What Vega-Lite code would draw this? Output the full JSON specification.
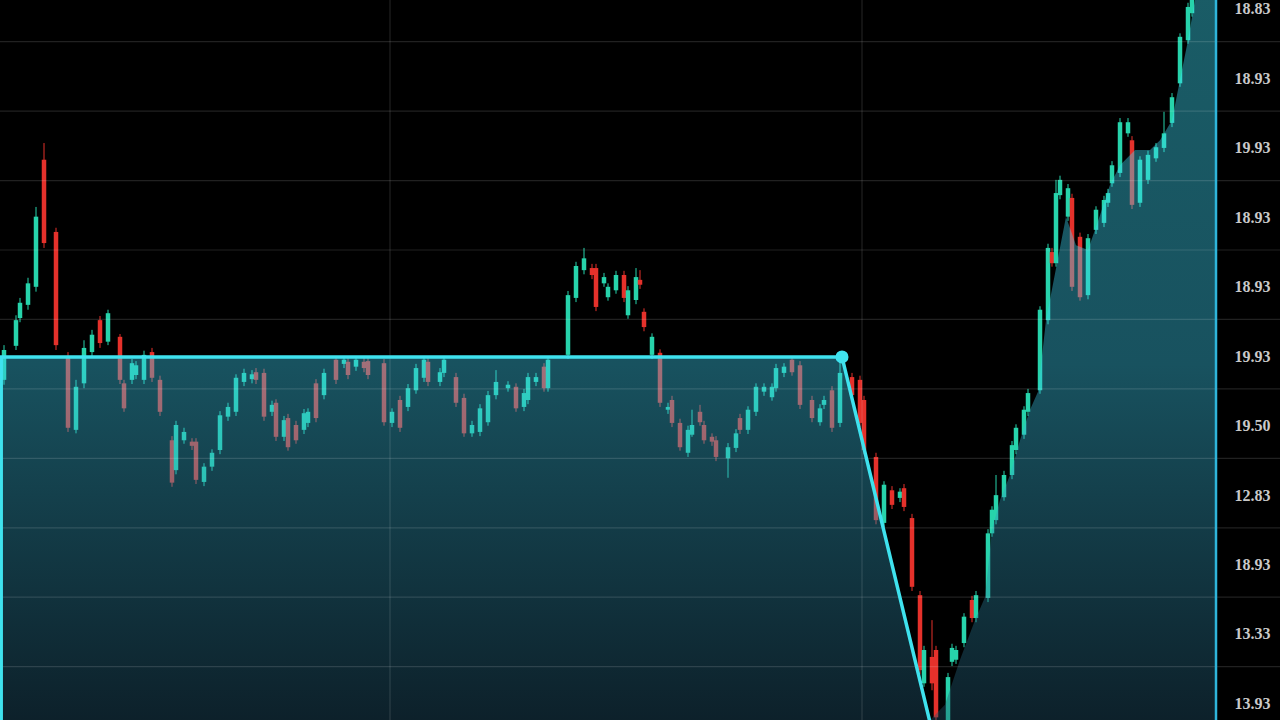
{
  "$schema": "https://vega.github.io/schema/vega-lite/v6.json",
  "width": 1280,
  "height": 720,
  "autosize": {"type": "none"},
  "padding": 0,
  "background": "#000000",
  "config": {
    "view": {"stroke": null},
    "axisX": {"disable": true},
    "axisY": {"grid": false, "domain": false, "ticks": false, "title": null}
  },
  "datasets": {
    "candles": [
      {"t":1,"o":18.513,"h":18.563,"l":18.506,"c":18.556},
      {"t":4,"o":18.562,"h":18.606,"l":18.556,"c":18.599},
      {"t":5,"o":18.602,"h":18.631,"l":18.596,"c":18.624},
      {"t":7,"o":18.621,"h":18.660,"l":18.614,"c":18.652},
      {"t":9,"o":18.647,"h":18.762,"l":18.640,"c":18.748},
      {"t":11,"o":18.830,"h":18.854,"l":18.703,"c":18.710},
      {"t":14,"o":18.726,"h":18.732,"l":18.556,"c":18.563},
      {"t":17,"o":18.545,"h":18.553,"l":18.438,"c":18.444},
      {"t":19,"o":18.441,"h":18.513,"l":18.436,"c":18.503},
      {"t":21,"o":18.508,"h":18.570,"l":18.501,"c":18.559},
      {"t":23,"o":18.553,"h":18.585,"l":18.547,"c":18.578},
      {"t":25,"o":18.599,"h":18.605,"l":18.559,"c":18.566},
      {"t":27,"o":18.568,"h":18.614,"l":18.563,"c":18.609},
      {"t":30,"o":18.575,"h":18.579,"l":18.507,"c":18.513},
      {"t":31,"o":18.508,"h":18.513,"l":18.467,"c":18.472},
      {"t":33,"o":18.513,"h":18.543,"l":18.507,"c":18.537},
      {"t":34,"o":18.520,"h":18.540,"l":18.514,"c":18.534},
      {"t":36,"o":18.513,"h":18.555,"l":18.507,"c":18.549},
      {"t":38,"o":18.553,"h":18.559,"l":18.510,"c":18.516},
      {"t":40,"o":18.513,"h":18.519,"l":18.461,"c":18.467},
      {"t":43,"o":18.426,"h":18.432,"l":18.359,"c":18.365},
      {"t":44,"o":18.383,"h":18.454,"l":18.377,"c":18.448},
      {"t":46,"o":18.426,"h":18.444,"l":18.421,"c":18.438},
      {"t":48,"o":18.424,"h":18.429,"l":18.412,"c":18.418},
      {"t":49,"o":18.424,"h":18.429,"l":18.363,"c":18.369},
      {"t":51,"o":18.366,"h":18.393,"l":18.360,"c":18.388},
      {"t":53,"o":18.388,"h":18.413,"l":18.382,"c":18.408},
      {"t":55,"o":18.412,"h":18.468,"l":18.406,"c":18.462},
      {"t":57,"o":18.460,"h":18.480,"l":18.454,"c":18.474},
      {"t":59,"o":18.467,"h":18.521,"l":18.461,"c":18.516},
      {"t":61,"o":18.510,"h":18.529,"l":18.504,"c":18.523},
      {"t":63,"o":18.514,"h":18.527,"l":18.508,"c":18.521},
      {"t":64,"o":18.524,"h":18.530,"l":18.507,"c":18.513},
      {"t":66,"o":18.523,"h":18.529,"l":18.454,"c":18.460},
      {"t":68,"o":18.467,"h":18.483,"l":18.461,"c":18.477},
      {"t":69,"o":18.480,"h":18.485,"l":18.425,"c":18.431},
      {"t":71,"o":18.431,"h":18.461,"l":18.425,"c":18.455},
      {"t":72,"o":18.458,"h":18.464,"l":18.411,"c":18.416},
      {"t":74,"o":18.448,"h":18.454,"l":18.421,"c":18.426},
      {"t":76,"o":18.441,"h":18.471,"l":18.435,"c":18.465},
      {"t":77,"o":18.451,"h":18.472,"l":18.445,"c":18.467},
      {"t":79,"o":18.508,"h":18.514,"l":18.452,"c":18.458},
      {"t":81,"o":18.491,"h":18.529,"l":18.485,"c":18.523},
      {"t":84,"o":18.542,"h":18.547,"l":18.507,"c":18.513},
      {"t":86,"o":18.536,"h":18.546,"l":18.530,"c":18.542},
      {"t":87,"o":18.539,"h":18.545,"l":18.514,"c":18.520},
      {"t":89,"o":18.532,"h":18.546,"l":18.526,"c":18.542},
      {"t":91,"o":18.539,"h":18.545,"l":18.524,"c":18.530},
      {"t":92,"o":18.540,"h":18.546,"l":18.514,"c":18.520},
      {"t":96,"o":18.537,"h":18.543,"l":18.447,"c":18.452},
      {"t":98,"o":18.451,"h":18.472,"l":18.445,"c":18.467},
      {"t":100,"o":18.484,"h":18.490,"l":18.438,"c":18.444},
      {"t":102,"o":18.474,"h":18.507,"l":18.468,"c":18.501},
      {"t":104,"o":18.498,"h":18.536,"l":18.493,"c":18.530},
      {"t":106,"o":18.516,"h":18.547,"l":18.510,"c":18.542},
      {"t":107,"o":18.539,"h":18.545,"l":18.504,"c":18.510},
      {"t":110,"o":18.510,"h":18.530,"l":18.504,"c":18.524},
      {"t":111,"o":18.523,"h":18.547,"l":18.517,"c":18.542},
      {"t":114,"o":18.517,"h":18.523,"l":18.474,"c":18.480},
      {"t":116,"o":18.487,"h":18.493,"l":18.431,"c":18.436},
      {"t":118,"o":18.436,"h":18.454,"l":18.431,"c":18.448},
      {"t":120,"o":18.438,"h":18.478,"l":18.432,"c":18.472},
      {"t":122,"o":18.452,"h":18.497,"l":18.447,"c":18.491},
      {"t":124,"o":18.491,"h":18.527,"l":18.485,"c":18.510},
      {"t":127,"o":18.501,"h":18.511,"l":18.496,"c":18.506},
      {"t":129,"o":18.503,"h":18.508,"l":18.467,"c":18.472},
      {"t":131,"o":18.474,"h":18.500,"l":18.468,"c":18.494},
      {"t":132,"o":18.484,"h":18.523,"l":18.478,"c":18.517},
      {"t":134,"o":18.510,"h":18.523,"l":18.504,"c":18.517},
      {"t":136,"o":18.532,"h":18.537,"l":18.496,"c":18.501},
      {"t":137,"o":18.501,"h":18.547,"l":18.496,"c":18.542},
      {"t":142,"o":18.549,"h":18.641,"l":18.543,"c":18.635},
      {"t":144,"o":18.631,"h":18.683,"l":18.625,"c":18.677},
      {"t":146,"o":18.671,"h":18.703,"l":18.665,"c":18.688},
      {"t":148,"o":18.674,"h":18.680,"l":18.658,"c":18.664},
      {"t":149,"o":18.674,"h":18.680,"l":18.612,"c":18.618},
      {"t":151,"o":18.652,"h":18.667,"l":18.647,"c":18.661},
      {"t":152,"o":18.632,"h":18.652,"l":18.627,"c":18.647},
      {"t":154,"o":18.642,"h":18.670,"l":18.637,"c":18.664},
      {"t":156,"o":18.664,"h":18.670,"l":18.625,"c":18.631},
      {"t":157,"o":18.606,"h":18.648,"l":18.601,"c":18.642},
      {"t":159,"o":18.628,"h":18.674,"l":18.622,"c":18.661},
      {"t":160,"o":18.657,"h":18.671,"l":18.644,"c":18.650},
      {"t":161,"o":18.611,"h":18.616,"l":18.583,"c":18.589},
      {"t":163,"o":18.549,"h":18.580,"l":18.543,"c":18.575},
      {"t":165,"o":18.552,"h":18.557,"l":18.474,"c":18.480},
      {"t":167,"o":18.470,"h":18.480,"l":18.464,"c":18.474},
      {"t":168,"o":18.484,"h":18.490,"l":18.445,"c":18.451},
      {"t":170,"o":18.451,"h":18.457,"l":18.411,"c":18.416},
      {"t":172,"o":18.408,"h":18.447,"l":18.402,"c":18.441},
      {"t":173,"o":18.434,"h":18.470,"l":18.431,"c":18.448},
      {"t":175,"o":18.467,"h":18.477,"l":18.447,"c":18.452},
      {"t":176,"o":18.448,"h":18.454,"l":18.421,"c":18.426},
      {"t":178,"o":18.431,"h":18.436,"l":18.418,"c":18.424},
      {"t":179,"o":18.426,"h":18.432,"l":18.396,"c":18.402},
      {"t":182,"o":18.400,"h":18.422,"l":18.372,"c":18.416},
      {"t":184,"o":18.415,"h":18.442,"l":18.409,"c":18.436},
      {"t":185,"o":18.458,"h":18.464,"l":18.435,"c":18.441},
      {"t":187,"o":18.441,"h":18.475,"l":18.435,"c":18.470},
      {"t":189,"o":18.467,"h":18.508,"l":18.461,"c":18.503},
      {"t":191,"o":18.496,"h":18.508,"l":18.490,"c":18.503},
      {"t":193,"o":18.488,"h":18.508,"l":18.483,"c":18.503},
      {"t":194,"o":18.501,"h":18.536,"l":18.496,"c":18.530},
      {"t":196,"o":18.523,"h":18.537,"l":18.517,"c":18.532},
      {"t":198,"o":18.542,"h":18.547,"l":18.519,"c":18.524},
      {"t":200,"o":18.534,"h":18.540,"l":18.471,"c":18.477},
      {"t":203,"o":18.484,"h":18.490,"l":18.452,"c":18.458},
      {"t":205,"o":18.452,"h":18.478,"l":18.447,"c":18.472},
      {"t":206,"o":18.477,"h":18.490,"l":18.471,"c":18.484},
      {"t":208,"o":18.498,"h":18.504,"l":18.438,"c":18.444},
      {"t":210,"o":18.451,"h":18.542,"l":18.445,"c":18.523},
      {"t":213,"o":18.517,"h":18.523,"l":18.485,"c":18.491},
      {"t":215,"o":18.513,"h":18.519,"l":18.445,"c":18.451},
      {"t":216,"o":18.484,"h":18.490,"l":18.406,"c":18.412},
      {"t":219,"o":18.402,"h":18.408,"l":18.305,"c":18.311},
      {"t":221,"o":18.307,"h":18.367,"l":18.301,"c":18.362},
      {"t":223,"o":18.354,"h":18.360,"l":18.327,"c":18.333},
      {"t":225,"o":18.343,"h":18.357,"l":18.337,"c":18.352},
      {"t":226,"o":18.357,"h":18.363,"l":18.324,"c":18.330},
      {"t":228,"o":18.314,"h":18.320,"l":18.209,"c":18.215},
      {"t":230,"o":18.203,"h":18.209,"l":18.089,"c":18.095},
      {"t":231,"o":18.076,"h":18.130,"l":18.071,"c":18.124},
      {"t":233,"o":18.114,"h":18.167,"l":18.066,"c":18.076},
      {"t":234,"o":18.124,"h":18.130,"l":18.016,"c":18.027},
      {"t":237,"o":18.016,"h":18.091,"l":18.012,"c":18.085},
      {"t":238,"o":18.107,"h":18.133,"l":18.101,"c":18.127},
      {"t":239,"o":18.110,"h":18.130,"l":18.104,"c":18.124},
      {"t":241,"o":18.134,"h":18.177,"l":18.128,"c":18.172},
      {"t":243,"o":18.196,"h":18.202,"l":18.164,"c":18.170},
      {"t":244,"o":18.170,"h":18.209,"l":18.164,"c":18.203},
      {"t":247,"o":18.199,"h":18.298,"l":18.193,"c":18.292},
      {"t":248,"o":18.292,"h":18.331,"l":18.287,"c":18.326},
      {"t":249,"o":18.311,"h":18.376,"l":18.305,"c":18.347},
      {"t":251,"o":18.344,"h":18.382,"l":18.339,"c":18.376},
      {"t":253,"o":18.376,"h":18.425,"l":18.370,"c":18.419},
      {"t":254,"o":18.412,"h":18.449,"l":18.406,"c":18.444},
      {"t":256,"o":18.434,"h":18.475,"l":18.428,"c":18.470},
      {"t":257,"o":18.467,"h":18.500,"l":18.461,"c":18.494},
      {"t":260,"o":18.498,"h":18.619,"l":18.493,"c":18.614},
      {"t":262,"o":18.599,"h":18.709,"l":18.593,"c":18.703},
      {"t":263,"o":18.697,"h":18.703,"l":18.676,"c":18.681},
      {"t":264,"o":18.681,"h":18.801,"l":18.676,"c":18.782},
      {"t":265,"o":18.779,"h":18.807,"l":18.773,"c":18.801},
      {"t":267,"o":18.748,"h":18.795,"l":18.742,"c":18.789},
      {"t":268,"o":18.775,"h":18.781,"l":18.641,"c":18.647},
      {"t":270,"o":18.719,"h":18.725,"l":18.627,"c":18.632},
      {"t":272,"o":18.635,"h":18.723,"l":18.629,"c":18.717},
      {"t":274,"o":18.729,"h":18.763,"l":18.723,"c":18.758},
      {"t":276,"o":18.739,"h":18.778,"l":18.733,"c":18.772},
      {"t":277,"o":18.768,"h":18.788,"l":18.762,"c":18.782},
      {"t":278,"o":18.796,"h":18.828,"l":18.791,"c":18.822},
      {"t":280,"o":18.811,"h":18.890,"l":18.805,"c":18.884},
      {"t":282,"o":18.868,"h":18.890,"l":18.863,"c":18.884},
      {"t":283,"o":18.858,"h":18.864,"l":18.759,"c":18.765},
      {"t":285,"o":18.768,"h":18.835,"l":18.762,"c":18.830},
      {"t":287,"o":18.801,"h":18.843,"l":18.795,"c":18.837},
      {"t":289,"o":18.832,"h":18.854,"l":18.827,"c":18.848},
      {"t":291,"o":18.847,"h":18.899,"l":18.841,"c":18.868},
      {"t":293,"o":18.883,"h":18.926,"l":18.877,"c":18.920},
      {"t":295,"o":18.940,"h":19.012,"l":18.935,"c":19.007},
      {"t":297,"o":19.002,"h":19.056,"l":18.997,"c":19.050},
      {"t":298,"o":19.041,"h":19.073,"l":19.036,"c":19.067}
    ],
    "area": [
      {"t":0,"p":18.546},
      {"t":210.5,"p":18.546},
      {"t":232.5,"p":18.023},
      {"t":236.25,"p":18.045},
      {"t":240,"p":18.110},
      {"t":243.75,"p":18.167},
      {"t":246.25,"p":18.200},
      {"t":248,"p":18.297},
      {"t":250,"p":18.340},
      {"t":252.5,"p":18.376},
      {"t":255,"p":18.426},
      {"t":257.5,"p":18.470},
      {"t":259.5,"p":18.496},
      {"t":261.5,"p":18.599},
      {"t":264.25,"p":18.681},
      {"t":266.5,"p":18.748},
      {"t":269,"p":18.707},
      {"t":272,"p":18.700},
      {"t":275,"p":18.750},
      {"t":277.5,"p":18.794},
      {"t":280,"p":18.822},
      {"t":283.75,"p":18.844},
      {"t":287.5,"p":18.844},
      {"t":290,"p":18.858},
      {"t":293,"p":18.887},
      {"t":295,"p":18.945},
      {"t":297,"p":19.002},
      {"t":298.75,"p":19.060},
      {"t":304,"p":19.070}
    ],
    "line": [
      {"i":0,"t":0.3,"p":18.0},
      {"i":1,"t":0.3,"p":18.546},
      {"i":2,"t":210.5,"p":18.546},
      {"i":3,"t":232.7,"p":18.015}
    ],
    "dot": [{"t":210.5,"p":18.546}],
    "edge": [{"t":304}],
    "hgrid": [
      {"g":18.1},{"g":18.2},{"g":18.3},{"g":18.4},{"g":18.5},
      {"g":18.6},{"g":18.7},{"g":18.8},{"g":18.9},{"g":19.0}
    ],
    "vgrid": [{"v":97.5},{"v":215.5}]
  },
  "layer": [
    {
      "data": {"name": "candles"},
      "mark": {"type": "rule", "strokeWidth": 1, "clip": true},
      "encoding": {
        "x": {"field": "t", "type": "quantitative", "scale": {"domain": [0, 320], "nice": false, "zero": false, "padding": 0}},
        "y": {
          "field": "l", "type": "quantitative",
          "scale": {"domain": [18.0232, 19.06], "nice": false, "zero": false, "padding": 0},
          "axis": {
            "orient": "right",
            "values": [18.05, 18.15, 18.25, 18.35, 18.45, 18.55, 18.65, 18.75, 18.85, 18.95, 19.05],
            "labelExpr": "['13.93','13.33','18.93','12.83','19.50','19.93','18.93','18.93','19.93','18.93','18.83'][round((datum.value - 18.05) * 10)]",
            "grid": false, "domain": false, "ticks": false, "tickSize": 0,
            "labelPadding": -10, "labelAlign": "right", "labelBaseline": "middle", "labelOffset": 2,
            "labelColor": "#c9c9c9", "labelFont": "Liberation Serif", "labelFontSize": 16, "labelFontWeight": "bold",
            "labelFlush": false, "labelOverlap": false, "labelBound": false,
            "title": null, "zindex": 5
          }
        },
        "y2": {"field": "h"},
        "color": {"condition": {"test": "datum.c >= datum.o", "value": "#27d3ab"}, "value": "#e5312b"}
      }
    },
    {
      "data": {"name": "candles"},
      "mark": {"type": "bar", "size": 4.5, "clip": true},
      "encoding": {
        "x": {"field": "t", "type": "quantitative", "scale": {"domain": [0, 320], "nice": false, "zero": false, "padding": 0}},
        "y": {"field": "o", "type": "quantitative", "scale": {"domain": [18.0232, 19.06], "nice": false, "zero": false, "padding": 0}},
        "y2": {"field": "c"},
        "color": {"condition": {"test": "datum.c >= datum.o", "value": "#27d3ab"}, "value": "#e5312b"}
      }
    },
    {
      "data": {"name": "area"},
      "mark": {
        "type": "area",
        "clip": true,
        "fillOpacity": 0.4,
        "color": {
          "gradient": "linear", "x1": 0, "y1": 0, "x2": 0, "y2": 1,
          "stops": [
            {"offset": 0, "color": "#40e6ff"},
            {"offset": 0.5, "color": "#3ccdee"},
            {"offset": 1, "color": "#1f4c64"}
          ]
        }
      },
      "encoding": {
        "x": {"field": "t", "type": "quantitative", "scale": {"domain": [0, 320], "nice": false, "zero": false, "padding": 0}},
        "y": {"field": "p", "type": "quantitative", "scale": {"domain": [18.0232, 19.06], "nice": false, "zero": false, "padding": 0}},
        "y2": {"datum": 18.0}
      }
    },
    {
      "data": {"name": "hgrid"},
      "mark": {"type": "rule", "color": "#ffffff", "opacity": 0.13, "strokeWidth": 1.2},
      "encoding": {
        "y": {"field": "g", "type": "quantitative", "scale": {"domain": [18.0232, 19.06], "nice": false, "zero": false, "padding": 0}}
      }
    },
    {
      "data": {"name": "vgrid"},
      "mark": {"type": "rule", "color": "#ffffff", "opacity": 0.13, "strokeWidth": 1.2},
      "encoding": {
        "x": {"field": "v", "type": "quantitative", "scale": {"domain": [0, 320], "nice": false, "zero": false, "padding": 0}}
      }
    },
    {
      "data": {"name": "edge"},
      "mark": {"type": "rule", "color": "#2fb5da", "strokeWidth": 2.5},
      "encoding": {
        "x": {"field": "t", "type": "quantitative", "scale": {"domain": [0, 320], "nice": false, "zero": false, "padding": 0}}
      }
    },
    {
      "data": {"name": "line"},
      "mark": {"type": "line", "color": "#3fe2ee", "strokeWidth": 3.5, "clip": true},
      "encoding": {
        "x": {"field": "t", "type": "quantitative", "scale": {"domain": [0, 320], "nice": false, "zero": false, "padding": 0}},
        "y": {"field": "p", "type": "quantitative", "scale": {"domain": [18.0232, 19.06], "nice": false, "zero": false, "padding": 0}},
        "order": {"field": "i"}
      }
    },
    {
      "data": {"name": "dot"},
      "mark": {"type": "point", "filled": true, "size": 170, "color": "#40e3ef", "opacity": 1},
      "encoding": {
        "x": {"field": "t", "type": "quantitative", "scale": {"domain": [0, 320], "nice": false, "zero": false, "padding": 0}},
        "y": {"field": "p", "type": "quantitative", "scale": {"domain": [18.0232, 19.06], "nice": false, "zero": false, "padding": 0}}
      }
    }
  ]
}
